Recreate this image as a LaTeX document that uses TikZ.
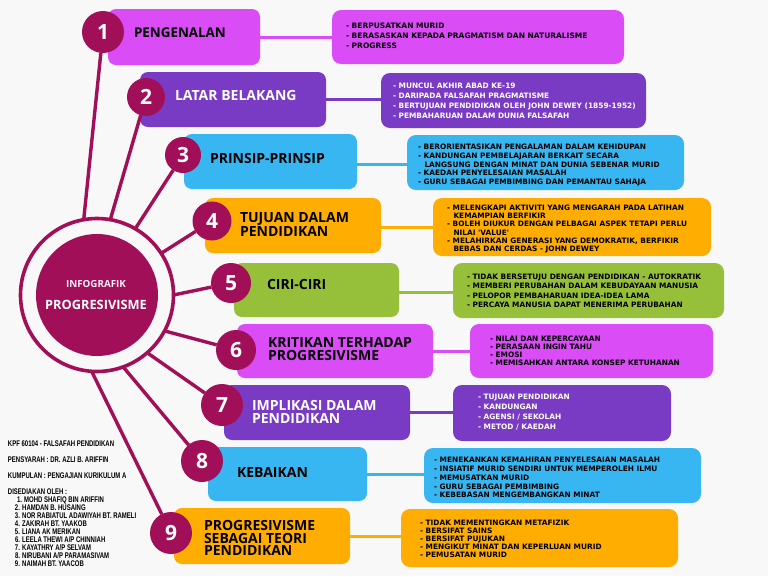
\documentclass[tikz,border=0pt]{standalone}
\usepackage{fontspec}
\setmainfont{Open Sans}
\newfontfamily\detailfont{DejaVu Sans}
\newfontfamily\creditfont[FakeStretch=0.73]{Liberation Sans}
\definecolor{pagebg}{HTML}{F8F8F8}
\definecolor{crim}{HTML}{A10F58}
\definecolor{pink}{HTML}{D94CF6}
\definecolor{violet}{HTML}{7A3BC4}
\definecolor{sky}{HTML}{38B6F1}
\definecolor{amber}{HTML}{FFAD00}
\definecolor{leaf}{HTML}{96BF3A}
\begin{document}
\begin{tikzpicture}[x=1pt, y=-1pt, inner sep=0pt, outer sep=0pt,
    num/.style = {circle, fill=crim, text=white, minimum size=#1, font=\bfseries\fontsize{21}{21}\selectfont},
    head/.style = {rounded corners=8pt, fill=#1},
    headtext/.style = {align=left, anchor=west, font=\bfseries\fontsize{14}{12.5}\selectfont},
    detail/.style = {rounded corners=9pt, fill=#1},
    detailtext/.style = {align=left, anchor=west, font=\detailfont\bfseries\fontsize{7.4}{9.9}\selectfont},
    spoke/.style = {draw=crim, line width=3.4pt},
    link/.style = {draw=#1, line width=3pt}]
    \fill[pagebg] (0,0) rectangle (768,576);
    \useasboundingbox (0,0) rectangle (768,576);

    \node[circle, draw=crim, line width=3.6pt, minimum size=153pt] (hub) at (97,295) {};
    \node[circle, fill=crim, minimum size=122pt] (core) at (hub) {};
    \node[text=white!92!pink, font=\bfseries\fontsize{9.8}{10}\selectfont] (t0a) at (96,284) {INFOGRAFIK};
    \node[text=white, font=\bfseries\fontsize{12.8}{13}\selectfont] (t0b) at (96,305) {PROGRESIVISME};

    \node[head=pink, minimum width=152pt, minimum height=56pt] (b1) at (184,37) {};
    \node[head=violet, minimum width=186pt, minimum height=55pt] (b2) at (233,99.5) {};
    \node[head=sky, minimum width=173pt, minimum height=55pt] (b3) at (270.5,161.5) {};
    \node[head=amber, minimum width=176pt, minimum height=55pt] (b4) at (293,225.5) {};
    \node[head=leaf, minimum width=165pt, minimum height=54pt] (b5) at (316.5,290) {};
    \node[head=pink, minimum width=196pt, minimum height=54pt] (b6) at (335,351) {};
    \node[head=violet, minimum width=186pt, minimum height=55pt] (b7) at (317,412.5) {};
    \node[head=sky, minimum width=159pt, minimum height=54pt] (b8) at (287.5,474) {};
    \node[head=amber, minimum width=176pt, minimum height=56pt] (b9) at (262,536) {};

    \node[detail=pink, minimum width=292pt, minimum height=54pt] (d1) at (478,37) {};
    \node[detail=violet, minimum width=265pt, minimum height=55pt] (d2) at (513.5,100.5) {};
    \node[detail=sky, minimum width=277pt, minimum height=55pt] (d3) at (545.5,162.5) {};
    \node[detail=amber, minimum width=278pt, minimum height=58pt] (d4) at (572,227) {};
    \node[detail=leaf, minimum width=271pt, minimum height=55pt] (d5) at (588.5,290.5) {};
    \node[detail=pink, minimum width=243pt, minimum height=54pt] (d6) at (591.5,351) {};
    \node[detail=violet, minimum width=218pt, minimum height=56pt] (d7) at (562,413) {};
    \node[detail=sky, minimum width=277pt, minimum height=55pt] (d8) at (562.5,475.5) {};
    \node[detail=amber, minimum width=277pt, minimum height=58pt] (d9) at (539.5,538) {};

    \coordinate (l3) at ([yshift=-2.5pt]b3.east);
    \coordinate (l4) at ([yshift=-1.5pt]b4.east);
    \coordinate (l5) at ([yshift=-2pt]b5.east);
    \path
    (b1.east) edge[link=pink] (b1.east -| d1.west)
    (b2.east) edge[link=violet] (b2.east -| d2.west)
    (l3) edge[link=sky] (l3 -| d3.west)
    (l4) edge[link=amber] (l4 -| d4.west)
    (l5) edge[link=leaf] (l5 -| d5.west)
    (b6.east) edge[link=pink] (b6.east -| d6.west)
    (b7.east) edge[link=violet] (b7.east -| d7.west)
    (b8.east) edge[link=sky] (b8.east -| d8.west)
    (b9.east) edge[link=amber] (b9.east -| d9.west);

    \node[num=42pt] (n1) at (103,32) {1};
    \node[num=38pt] (n2) at (146,97) {2};
    \node[num=36pt] (n3) at (183,155) {3};
    \node[num=39pt] (n4) at (212,221) {4};
    \node[num=40pt] (n5) at (231,283) {5};
    \node[num=40pt] (n6) at (236,350) {6};
    \node[num=42pt] (n7) at (222,405) {7};
    \node[num=42pt] (n8) at (202,461) {8};
    \node[num=42pt] (n9) at (171,533) {9};

    \path[spoke]
    (hub.100) edge (n1)
    (hub.80) edge (n2)
    (hub.60) edge (n3)
    (hub.33) edge (n4)
    (hub.0) edge (n5)
    (hub.-28) edge (n6)
    (hub.-49) edge (n7)
    (hub.-70) edge (n8)
    (hub.-94) edge (n9);

    \node[headtext, font=\bfseries\fontsize{13.4}{12.5}\selectfont] (h1) at (134,33) {PENGENALAN};
    \node[headtext, text=white] (h2) at (175,95) {LATAR BELAKANG};
    \node[headtext] (h3) at (210,158) {PRINSIP-PRINSIP};
    \node[headtext] (h4) at (240,224) {TUJUAN DALAM\\PENDIDIKAN};
    \node[headtext] (h5) at (267,284) {CIRI-CIRI};
    \node[headtext] (h6) at (268,349) {KRITIKAN TERHADAP\\PROGRESIVISME};
    \node[headtext, text=white] (h7) at (252,412) {IMPLIKASI DALAM\\PENDIDIKAN};
    \node[headtext] (h8) at (237,472) {KEBAIKAN};
    \node[headtext] (h9) at (204,538) {PROGRESIVISME\\SEBAGAI TEORI\\PENDIDIKAN};

    \node[detailtext, font=\detailfont\bfseries\fontsize{7.5}{9.9}\selectfont] (s1) at (346,36) {- BERPUSATKAN MURID\\- BERASASKAN KEPADA PRAGMATISM DAN NATURALISME\\- PROGRESS};
    \node[detailtext, text=white] (s2) at (393,101) {- MUNCUL AKHIR ABAD KE-19\\- DARIPADA FALSAFAH PRAGMATISME\\- BERTUJUAN PENDIDIKAN OLEH JOHN DEWEY (1859-1952)\\- PEMBAHARUAN DALAM DUNIA FALSAFAH};
    \node[detailtext, font=\detailfont\bfseries\fontsize{7.4}{8.6}\selectfont] (s3) at (418,165) {- BERORIENTASIKAN PENGALAMAN DALAM KEHIDUPAN\\- KANDUNGAN PEMBELAJARAN BERKAIT SECARA\\\hspace*{6.5pt}LANGSUNG DENGAN MINAT DAN DUNIA SEBENAR MURID\\- KAEDAH PENYELESAIAN MASALAH\\- GURU SEBAGAI PEMBIMBING DAN PEMANTAU SAHAJA};
    \node[detailtext, font=\detailfont\bfseries\fontsize{7.4}{8.1}\selectfont] (s4) at (447,229) {- MELENGKAPI AKTIVITI YANG MENGARAH PADA LATIHAN\\\hspace*{6.5pt}KEMAMPIAN BERFIKIR\\- BOLEH DIUKUR DENGAN PELBAGAI ASPEK TETAPI PERLU\\\hspace*{6.5pt}NILAI 'VALUE'\\- MELAHIRKAN GENERASI YANG DEMOKRATIK, BERFIKIR\\\hspace*{6.5pt}BEBAS DAN CERDAS - JOHN DEWEY};
    \node[detailtext, font=\detailfont\bfseries\fontsize{7.4}{9.4}\selectfont] (s5) at (467,291) {- TIDAK BERSETUJU DENGAN PENDIDIKAN - AUTOKRATIK\\- MEMBERI PERUBAHAN DALAM KEBUDAYAAN MANUSIA\\- PELOPOR PEMBAHARUAN IDEA-IDEA LAMA\\- PERCAYA MANUSIA DAPAT MENERIMA PERUBAHAN};
    \node[detailtext, font=\detailfont\bfseries\fontsize{7.4}{8}\selectfont] (s6) at (490,351) {- NILAI DAN KEPERCAYAAN\\- PERASAAN INGIN TAHU\\- EMOSI\\- MEMISAHKAN ANTARA KONSEP KETUHANAN};
    \node[detailtext, text=white] (s7) at (478,412) {- TUJUAN PENDIDIKAN\\- KANDUNGAN\\- AGENSI / SEKOLAH\\- METOD / KAEDAH};
    \node[detailtext, font=\detailfont\bfseries\fontsize{7.4}{8.8}\selectfont] (s8) at (434,477.5) {- MENEKANKAN KEMAHIRAN PENYELESAIAN MASALAH\\- INSIATIF MURID SENDIRI UNTUK MEMPEROLEH ILMU\\- MEMUSATKAN MURID\\- GURU SEBAGAI PEMBIMBING\\- KEBEBASAN MENGEMBANGKAN MINAT};
    \node[detailtext, font=\detailfont\bfseries\fontsize{7.4}{8}\selectfont] (s9) at (420,539) {- TIDAK MEMENTINGKAN METAFIZIK\\- BERSIFAT SAINS\\- BERSIFAT PUJUKAN\\- MENGIKUT MINAT DAN KEPERLUAN MURID\\- PEMUSATAN MURID};

    \node[align=left, anchor=north west, font=\creditfont\bfseries\fontsize{8.2}{8}\selectfont] (credit) at (8,441) {KPF 60104 - FALSAFAH PENDIDIKAN\\[8pt]PENSYARAH : DR. AZLI B. ARIFFIN\\[8pt]KUMPULAN : PENGAJIAN KURIKULUM A\\[8pt]DISEDIAKAN OLEH :\\
    \hspace*{9pt}1. MOHD SHAFIQ BIN ARIFFIN\\\hspace*{7pt}2. HAMDAN B. HUSAING\\\hspace*{7pt}3. NOR RABIATUL ADAWIYAH BT. RAMELI\\\hspace*{7pt}4. ZAKIRAH BT. YAAKOB\\\hspace*{7pt}5. LIANA AK MERIKAN\\\hspace*{7pt}6. LEELA THEWI A/P CHINNIAH\\\hspace*{7pt}7. KAYATHRY A/P  SELVAM\\\hspace*{7pt}8. NIRUBANI A/P PARAMASIVAM\\\hspace*{7pt}9. NAIMAH BT. YAACOB};
\end{tikzpicture}
\end{document}
